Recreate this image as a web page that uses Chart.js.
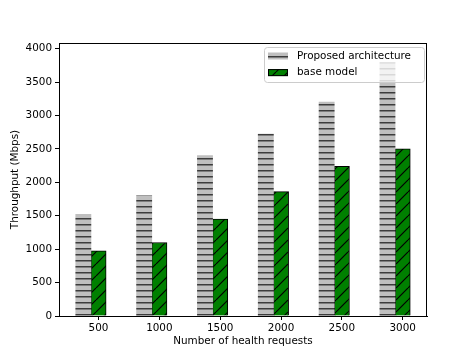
<!DOCTYPE html>
<html><head><meta charset="utf-8">
<script src="https://cdn.jsdelivr.net/npm/chart.js@4.4.1/dist/chart.umd.min.js"></script>
<style>html,body{margin:0;padding:0;background:#fff}#wrap{width:474px;height:355px}</style>
</head><body><div id="wrap"><canvas id="c" width="474" height="355"></canvas></div>
<script>
const categories = [500, 1000, 1500, 2000, 2500, 3000];
const proposed = [1520, 1800, 2400, 2720, 3200, 3790];
const baseModel = [975, 1100, 1450, 1860, 2240, 2500];
const seriesNames = ['Proposed architecture', 'base model'];
const yTickValues = [0, 500, 1000, 1500, 2000, 2500, 3000, 3500, 4000];
const xTitle = 'Number of health requests';
const yTitle = 'Throughput (Mbps)';

function makeGrayPattern() {
  const c = document.createElement('canvas'); c.width = 6; c.height = 6;
  const g = c.getContext('2d');
  g.fillStyle = '#bfbfbf'; g.fillRect(0, 0, 6, 6);
  g.fillStyle = '#3c3c3c'; g.fillRect(0, 2, 6, 1.5);
  return g.createPattern(c, 'repeat');
}
function makeGreenPattern() {
  const s = 12;
  const c = document.createElement('canvas'); c.width = s; c.height = s;
  const g = c.getContext('2d');
  g.fillStyle = '#008000'; g.fillRect(0, 0, s, s);
  g.strokeStyle = '#000'; g.lineWidth = 1.2;
  for (const o of [-s, 0, s]) {
    g.beginPath(); g.moveTo(o, s); g.lineTo(o + s, 0); g.stroke();
  }
  return g.createPattern(c, 'repeat');
}
const grayPat = makeGrayPattern();
const greenPat = makeGreenPattern();

const FS = 10.4;
Chart.defaults.font.family = 'DejaVu Sans';
Chart.defaults.font.size = FS;
Chart.defaults.color = '#000';

const framePlugin = {
  id: 'frame',
  afterDatasetsDraw(chart) {
    const a = chart.chartArea, ctx = chart.ctx;
    ctx.save();
    ctx.strokeStyle = '#000'; ctx.lineWidth = 1;
    ctx.strokeRect(Math.round(a.left) + 0.5, Math.round(a.top) + 0.5, Math.round(a.right - a.left) - 1, Math.round(a.bottom - a.top));
    ctx.restore();
  },
  afterDraw(chart) {
    const ctx = chart.ctx;
    const a = chart.chartArea;
    const bx = a.right - 163, by = a.top + 4, bw = 160, bh = 35;
    ctx.save();
    ctx.beginPath();
    if (ctx.roundRect) ctx.roundRect(bx + 0.5, by + 0.5, bw, bh, 3); else ctx.rect(bx + 0.5, by + 0.5, bw, bh);
    ctx.fillStyle = 'rgba(255,255,255,0.8)'; ctx.fill();
    ctx.strokeStyle = '#cccccc'; ctx.lineWidth = 1; ctx.stroke();
    const fills = [grayPat, greenPat];
    const borders = [null, '#000'];
    ctx.font = FS + 'px "DejaVu Sans"'; ctx.textBaseline = 'middle'; ctx.textAlign = 'left';
    seriesNames.forEach((name, i) => {
      const cy = by + 9 + i * 16.6;
      const px = bx + 4, pw = 20, ph = 7;
      ctx.fillStyle = fills[i]; ctx.fillRect(px, cy - ph / 2, pw, ph);
      if (borders[i]) { ctx.strokeStyle = borders[i]; ctx.lineWidth = 1; ctx.strokeRect(px + 0.5, cy - ph / 2 + 0.5, pw - 1, ph - 1); }
      ctx.fillStyle = '#000'; ctx.fillText(name, bx + 33, cy);
    });
    ctx.restore();
  }
};

new Chart(document.getElementById('c'), {
  type: 'bar',
  data: {
    datasets: [
      { label: seriesNames[0], data: categories.map((c, i) => ({ x: c, y: proposed[i] })), backgroundColor: grayPat, borderWidth: 0 },
      { label: seriesNames[1], data: categories.map((c, i) => ({ x: c, y: baseModel[i] })), backgroundColor: greenPat, borderColor: '#000', borderWidth: 1 },
      { label: 'spacer', data: categories.map(c => ({ x: c, y: null })), backgroundColor: 'rgba(0,0,0,0)' }
    ]
  },
  options: {
    responsive: false, animation: false, devicePixelRatio: 1,
    barThickness: 15.2,
    layout: { padding: { top: 43, right: 47, left: 0, bottom: 0 } },
    plugins: { legend: { display: false }, tooltip: { enabled: false } },
    scales: {
      x: {
        type: 'linear', min: 175, max: 3200, offset: false,
        afterBuildTicks: s => { s.ticks = categories.map(v => ({ value: v })); },
        afterFit: s => { s.height = 39; },
        grid: { offset: false, drawOnChartArea: false, drawTicks: true, tickLength: 4, color: '#000' },
        border: { display: true, color: '#000' },
        ticks: { padding: 2, maxRotation: 0, autoSkip: false, callback: v => String(v) },
        title: { display: true, text: xTitle, padding: { top: 0, bottom: 7 } }
      },
      y: {
        min: 0, max: 4084,
        afterBuildTicks: s => { s.ticks = yTickValues.map(v => ({ value: v })); },
        afterFit: s => { s.width = 59; },
        grid: { drawOnChartArea: false, drawTicks: true, tickLength: 4, color: '#000' },
        border: { display: true, color: '#000' },
        ticks: { padding: 3, callback: v => String(v) },
        title: { display: true, text: yTitle, padding: { top: 9, bottom: 0 } }
      }
    }
  },
  plugins: [framePlugin]
});
</script></body></html>
